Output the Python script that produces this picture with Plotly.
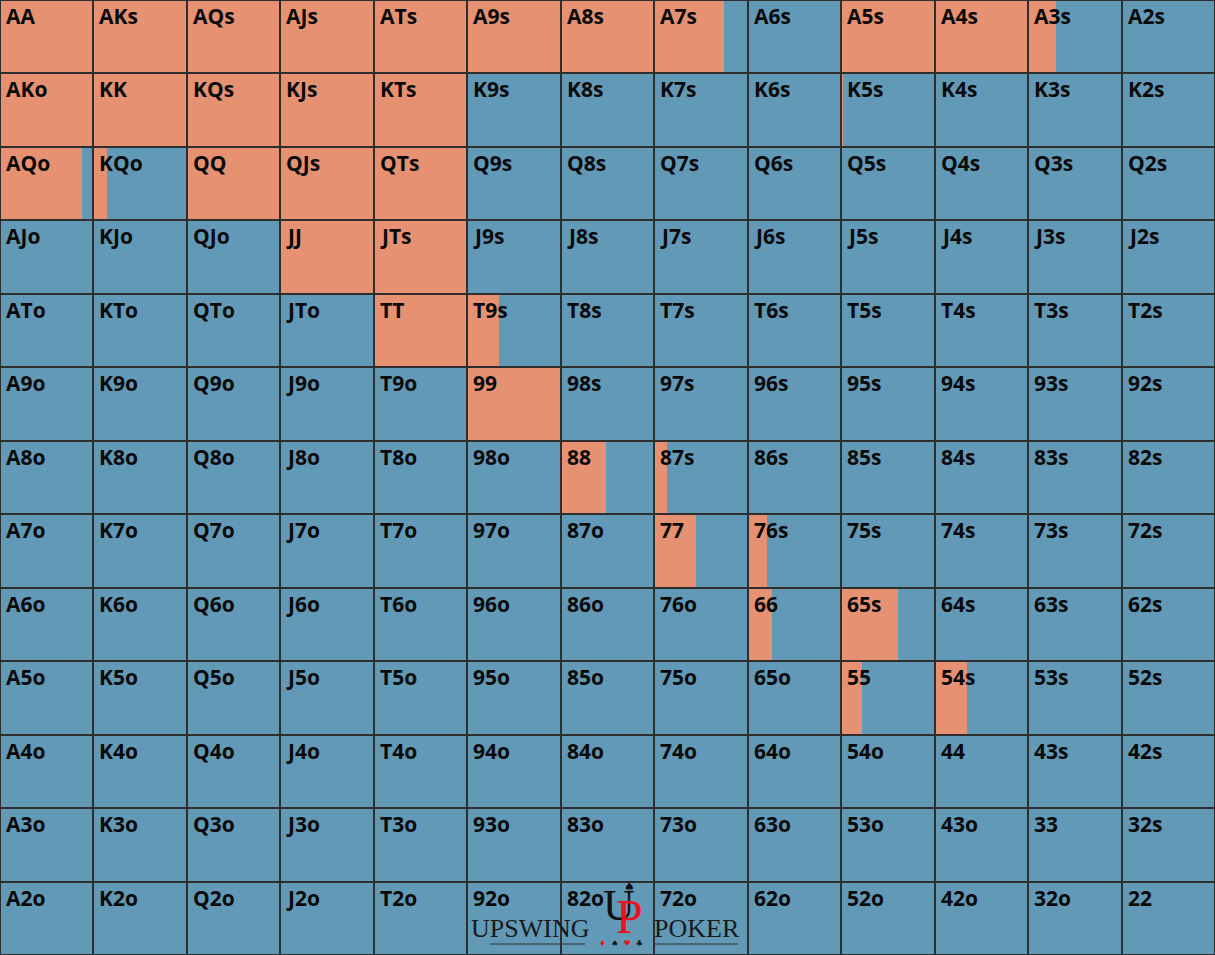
import plotly.graph_objects as go

RANKS = list("AKQJT98765432")

# Raise frequency (orange share of each cell), rows/cols in RANKS order
RAISE = [
    [1, 1, 1, 1, 1, 1, 1, 0.75, 0, 1, 1, 0.30, 0],
    [1, 1, 1, 1, 1, 0, 0, 0, 0, 0.02, 0, 0, 0],
    [0.88, 0.15, 1, 1, 1, 0, 0, 0, 0, 0, 0, 0, 0],
    [0, 0, 0, 1, 1, 0, 0, 0, 0, 0, 0, 0, 0],
    [0, 0, 0, 0, 1, 0.34, 0, 0, 0, 0, 0, 0, 0],
    [0, 0, 0, 0, 0, 1, 0, 0, 0, 0, 0, 0, 0],
    [0, 0, 0, 0, 0, 0, 0.48, 0.14, 0, 0, 0, 0, 0],
    [0, 0, 0, 0, 0, 0, 0, 0.45, 0.21, 0, 0, 0, 0],
    [0, 0, 0, 0, 0, 0, 0, 0, 0.26, 0.61, 0, 0, 0],
    [0, 0, 0, 0, 0, 0, 0, 0, 0, 0.22, 0.35, 0, 0],
    [0, 0, 0, 0, 0, 0, 0, 0, 0, 0, 0, 0, 0],
    [0, 0, 0, 0, 0, 0, 0, 0, 0, 0, 0, 0, 0],
    [0, 0, 0, 0, 0, 0, 0, 0, 0, 0, 0, 0, 0],
]

ORANGE = "#E59172"
BLUE = "#6199B7"
LINE = "#2E2E2E"
RED = "#E8141B"


def hand(i, j):
    if i == j:
        return RANKS[i] + RANKS[j]
    if i < j:
        return RANKS[i] + RANKS[j] + "s"
    return RANKS[j] + RANKS[i] + "o"


ys, o_base, o_len, b_base, b_len, c_base = [], [], [], [], [], []
labels = []
for i in range(13):
    for j in range(13):
        f = RAISE[i][j]
        ys.append(i + 0.5)
        o_base.append(j)
        o_len.append(f)
        b_base.append(j + f)
        b_len.append(1 - f)
        c_base.append(j)
        labels.append((j, i, hand(i, j)))

fig = go.Figure()
fig.add_trace(go.Bar(orientation="h", y=ys, x=o_len, base=o_base, width=1,
                     marker=dict(color=ORANGE, line=dict(width=0)), name="Raise",
                     hoverinfo="skip"))
fig.add_trace(go.Bar(orientation="h", y=ys, x=b_len, base=b_base, width=1,
                     marker=dict(color=BLUE, line=dict(width=0)), name="Fold",
                     hoverinfo="skip"))
fig.add_trace(go.Bar(orientation="h", y=ys, x=[1] * len(ys), base=c_base, width=1,
                     marker=dict(color="rgba(0,0,0,0)", line=dict(width=2, color=LINE)),
                     hoverinfo="skip"))

annotations = []
for (j, i, t) in labels:
    annotations.append(dict(x=j, y=i, xref="x", yref="y", text="<b>" + t + "</b>",
                            showarrow=False, xanchor="left", yanchor="top",
                            xshift=4, yshift=0,
                            font=dict(family="Open Sans", size=21, color="#0a0a0a")))

# Watermark (pixel positions converted to paper coordinates)
wm = [
    dict(x=530, y=928, text="UPSWING", size=26, color="#1a1a1a", family="Liberation Serif"),
    dict(x=697, y=928, text="POKER", size=26, color="#1a1a1a", family="Liberation Serif"),
    dict(x=619, y=905, text="U", size=44, color="#111111", family="Liberation Serif"),
    dict(x=629, y=916, text="P", size=48, color=RED, family="Liberation Serif"),
    dict(x=629, y=887, text="♠", size=12, color="#111111", family="DejaVu Sans"),
    dict(x=621, y=943,
         text="<span style='color:#E8141B'>♦</span>  ♠  <span style='color:#E8141B'>♥</span>  ♣",
         size=8, color="#111111", family="DejaVu Sans"),
]
for w in wm:
    annotations.append(dict(x=w["x"] / 1215, y=1 - w["y"] / 955, xref="paper", yref="paper",
                            xanchor="center", yanchor="middle", text=w["text"],
                            showarrow=False,
                            font=dict(family=w["family"], size=w["size"], color=w["color"])))

fig.update_layout(
    width=1215, height=955,
    margin=dict(l=0, r=0, t=0, b=0),
    barmode="overlay", bargap=0,
    showlegend=False,
    paper_bgcolor="white", plot_bgcolor=BLUE,
    xaxis=dict(range=[0, 13], visible=False, fixedrange=True),
    yaxis=dict(range=[13, 0], visible=False, fixedrange=True),
    annotations=annotations,
    shapes=[
        dict(type="line", xref="paper", yref="paper", x0=490 / 1215, x1=585 / 1215,
             y0=1 - 944 / 955, y1=1 - 944 / 955, line=dict(color="#333", width=1)),
        dict(type="line", xref="paper", yref="paper", x0=655 / 1215, x1=738 / 1215,
             y0=1 - 944 / 955, y1=1 - 944 / 955, line=dict(color="#333", width=1)),
    ],
)

fig.write_html("out.html")
